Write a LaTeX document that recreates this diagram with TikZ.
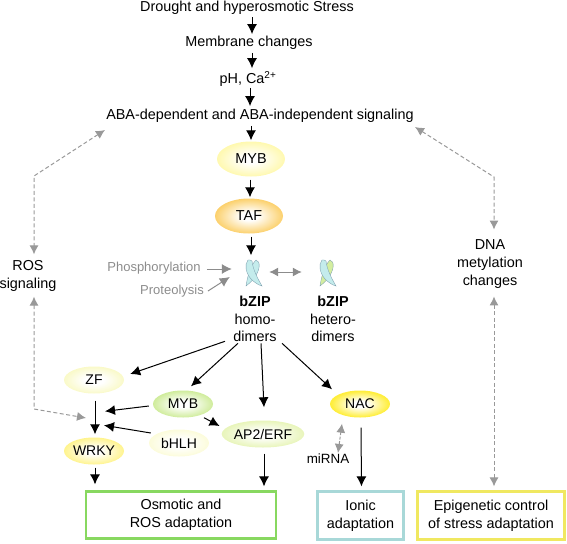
\documentclass[tikz,border=0pt]{standalone}
\usepackage{fontspec}
\setmainfont{Liberation Sans}
\usetikzlibrary{arrows.meta,calc,shapes.geometric}
\definecolor{mybO}{HTML}{FFF79A}
\definecolor{tafO}{HTML}{FBC955}
\definecolor{paleY}{HTML}{F8F8B8}
\definecolor{veryP}{HTML}{FBFBD0}
\definecolor{greenO}{HTML}{C8E98C}
\definecolor{apO}{HTML}{E2F2A8}
\definecolor{wrkyO}{HTML}{FFF27C}
\definecolor{nacO}{HTML}{FFEE3C}
\definecolor{boxG}{HTML}{88D860}
\definecolor{boxT}{HTML}{A8D8D8}
\definecolor{boxY}{HTML}{F0E860}
\pgfdeclareradialshading{glowA}{\pgfpointorigin}{color(0bp)=(white);color(6bp)=(white);color(30bp)=(mybO);color(50bp)=(mybO)}
\pgfdeclareradialshading{glowTAF}{\pgfpointorigin}{color(0bp)=(white);color(6bp)=(white);color(28bp)=(tafO);color(50bp)=(tafO)}
\pgfdeclareradialshading{glowZF}{\pgfpointorigin}{color(0bp)=(white);color(8bp)=(white);color(30bp)=(paleY);color(50bp)=(paleY)}
\pgfdeclareradialshading{glowH}{\pgfpointorigin}{color(0bp)=(white);color(8bp)=(white);color(30bp)=(veryP);color(50bp)=(veryP)}
\pgfdeclareradialshading{glowG}{\pgfpointorigin}{color(0bp)=(white);color(6bp)=(white);color(28bp)=(greenO);color(50bp)=(greenO)}
\pgfdeclareradialshading{glowAP}{\pgfpointorigin}{color(0bp)=(white);color(6bp)=(white);color(30bp)=(apO);color(50bp)=(apO)}
\pgfdeclareradialshading{glowW}{\pgfpointorigin}{color(0bp)=(white);color(6bp)=(white);color(28bp)=(wrkyO);color(50bp)=(wrkyO)}
\pgfdeclareradialshading{glowN}{\pgfpointorigin}{color(0bp)=(white);color(6bp)=(white);color(24bp)=(nacO);color(50bp)=(nacO)}
\definecolor{lblue}{HTML}{C4ECEC}
\definecolor{lgreen}{HTML}{D4EEA0}
\definecolor{greyT}{HTML}{8C8C8C}
\tikzset{
 lbl/.style={font=\fontsize{14.4}{17.8}\selectfont,align=center,inner sep=0pt,text=black},
 glbl/.style={lbl,font=\fontsize{13}{15}\selectfont,text=greyT},
 oval/.style={ellipse,inner sep=0pt,minimum width=60pt,minimum height=27pt,font=\fontsize{14}{15}\selectfont},
 bigoval/.style={oval,font=\fontsize{14.4}{15}\selectfont,minimum width=68pt,minimum height=35pt},
 arr/.style={-{Latex[length=10pt,width=10pt]},line width=1pt,black},
 garr/.style={-{Latex[length=10pt,width=10pt]},line width=1pt,gray!90},
 gdbl/.style={{Latex[length=9pt,width=9pt]}-{Latex[length=9pt,width=9pt]},line width=1pt,gray!90},
 gdash/.style={{Latex[length=9pt,width=9pt]}-{Latex[length=9pt,width=9pt]},line width=1pt,gray!80,dash pattern=on 4pt off 2.5pt},
 boxn/.style={rectangle,draw,inner sep=0pt,font=\fontsize{14.4}{17.8}\selectfont,align=center,line width=2.2pt},
}
\newcommand\dimerglyph[3]{%
 \begin{scope}[shift={(#1)}]
 \filldraw[fill=#3,draw=gray!70!cyan,line width=.35pt] (3,-13) .. controls (8,-12) and (7,-2) .. (1,5) .. controls (-2,9) and (-4,11) .. (-7,13) .. controls (-6,6) and (-3,-7) .. (3,-13) -- cycle;
 \filldraw[fill=#2,draw=gray!70!cyan,line width=.35pt] (-5,-13) .. controls (-9,-8) and (-7,0) .. (-2,6) .. controls (1,9) and (5,12) .. (9,13) .. controls (5,6) and (0,-3) .. (-1,-12) .. controls (-2,-13) and (-4,-13.5) .. (-5,-13) -- cycle;
 \end{scope}}
\begin{document}
\begin{tikzpicture}[x=1pt,y=-1pt]
\useasboundingbox (0,0) rectangle (567,543);
\node[lbl] (drought) at (247,7.5) {Drought and hyperosmotic Stress};
\node[lbl] (membrane) at (249,43) {Membrane changes};
\node[lbl] (ph) at (248,79) {pH, Ca\textsuperscript{2+}};
\node[lbl] (aba) at (260,116) {ABA-dependent and ABA-independent signaling};
\node[bigoval,shading=glowA] (myb) at (251,159) {MYB};
\node[bigoval,shading=glowTAF] (taf) at (249,216) {TAF};
\node[inner sep=0pt,minimum width=18pt,minimum height=27pt] (homo) at (253,273) {};
\node[inner sep=0pt,minimum width=18pt,minimum height=27pt] (hetero) at (327,273) {};
\dimerglyph{253,273}{lblue}{lblue}
\dimerglyph{327,273}{lblue}{lgreen}
\node[glbl] (phos) at (154,268) {Phosphorylation};
\node[glbl] (prot) at (172,291) {Proteolysis};
\node[lbl] (homotext) at (255,319) {\textbf{bZIP}\\homo-\\dimers};
\node[lbl] (heterotext) at (333,319) {\textbf{bZIP}\\hetero-\\dimers};
\node[lbl] (ros) at (28,276) {ROS\\signaling};
\node[lbl] (dna) at (490,264) {DNA\\metylation\\changes};
\node[oval,shading=glowZF] (zf) at (94,380) {ZF};
\node[oval,shading=glowG] (myb2) at (183,404) {MYB};
\node[oval,shading=glowH] (bhlh) at (179,443) {bHLH};
\node[oval,shading=glowW] (wrky) at (94,451) {WRKY};
\node[oval,shading=glowAP] (ap2) at (263,434) {AP2/ERF};
\node[oval,shading=glowN] (nac) at (360,404) {NAC};
\node[lbl,font=\fontsize{13.4}{15}\selectfont] (mirna) at (328,459) {miRNA};
\node[boxn,draw=boxG,minimum width=190pt,minimum height=47pt] (osm) at (181,515) {Osmotic and\\ROS adaptation};
\node[boxn,draw=boxT,minimum width=86pt,minimum height=48pt] (ion) at (360.5,515.5) {Ionic\\adaptation};
\node[boxn,draw=boxY,minimum width=147pt,minimum height=48pt] (epi) at (491,515.5) {Epigenetic control\\of stress adaptation};
\coordinate (rosbend) at (34,409);
\coordinate (wrkyin) at (86,418);
\coordinate (abal) at (105,130);
\coordinate (abar) at (415,127);
\coordinate (rosTop) at (34,176);
\coordinate (dnaTop) at (494,177);
% main chain
\draw[arr] ($(drought.south -| 252,0)+(0,3)$) -- ($(membrane.north -| 252,0)+(0,-2)$);
\draw[arr] ($(membrane.south -| 252,0)+(0,3)$) -- ($(ph.north -| 252,0)+(0,-3)$);
\draw[arr] ($(ph.south -| 250,0)+(0,1)$) -- ($(aba.north -| 250,0)+(0,-3)$);
\draw[arr] ($(aba.south -| 251,0)+(0,3)$) -- ($(myb.north)+(0,-1)$);
\draw[arr] ($(myb.south)+(-1,3)$) -- ($(taf.north)+(1,-1)$);
\draw[arr] ($(taf.south)+(2,3)$) -- ($(homo.north)+(-2,-4)$);
\draw[garr] ($(phos.east)+(6,1)$) -- ($(homo.west)+(-12,-4)$);
\draw[garr] ($(prot.east)+(4,0)$) -- ($(homo.west)+(-14,4)$);
\draw[gdbl] ($(homo.east)+(7,-1)$) -- ($(hetero.west)+(-16,-1)$);
% ROS and DNA
\draw[gdash] (abal) -- (rosTop) -- ($(ros.north)+(6,-6)$);
\draw[gdash] ($(ros.south)+(6,5)$) -- (rosbend) -- (wrkyin);
\draw[gdash] (abar) -- (dnaTop) -- ($(dna.north)+(4,-10)$);
\draw[gdash] ($(dna.south)+(4,8)$) -- ($(epi.north)+(3,-4)$);
% targets
\draw[arr] ($(homotext.south)+(-30,-1)$) -- ($(zf.east)+(6,-6)$);
\draw[arr] ($(homotext.south)+(-17,1)$) -- ($(myb2.north)+(8,-4)$);
\draw[arr] ($(homotext.south)+(6,1)$) -- ($(ap2.north)+(1,-13)$);
\draw[arr] ($(homotext.south)+(27,1)$) -- ($(nac.north)+(-28,-1)$);
\draw[arr] ($(zf.south)+(1,7)$) -- ($(wrky.north)+(1,-3)$);
\draw[arr] ($(wrky.south)+(1,3)$) -- ($(osm.north -| wrky)+(1,-6)$);
\draw[arr] ($(myb2.west)+(-4,2)$) -- ($(wrky.north)+(11,-26)$);
\draw[arr] ($(myb2.south)+(21,0)$) -- ($(ap2.west)+(-2,-8)$);
\draw[arr] ($(bhlh.west)+(2,-10)$) -- ($(wrky.north)+(10,-12)$);
\draw[arr] ($(ap2.south)+(1,6)$) -- ($(osm.north)+(83,-4)$);
\draw[arr] ($(nac.south)+(1,10)$) -- ($(ion.north)+(1,-4)$);
\draw[gdash,dash pattern=on 3pt off 1.5pt] ($(nac.south)+(-18,6)$) -- ($(mirna.north)+(10,-1)$);
\end{tikzpicture}
\end{document}
